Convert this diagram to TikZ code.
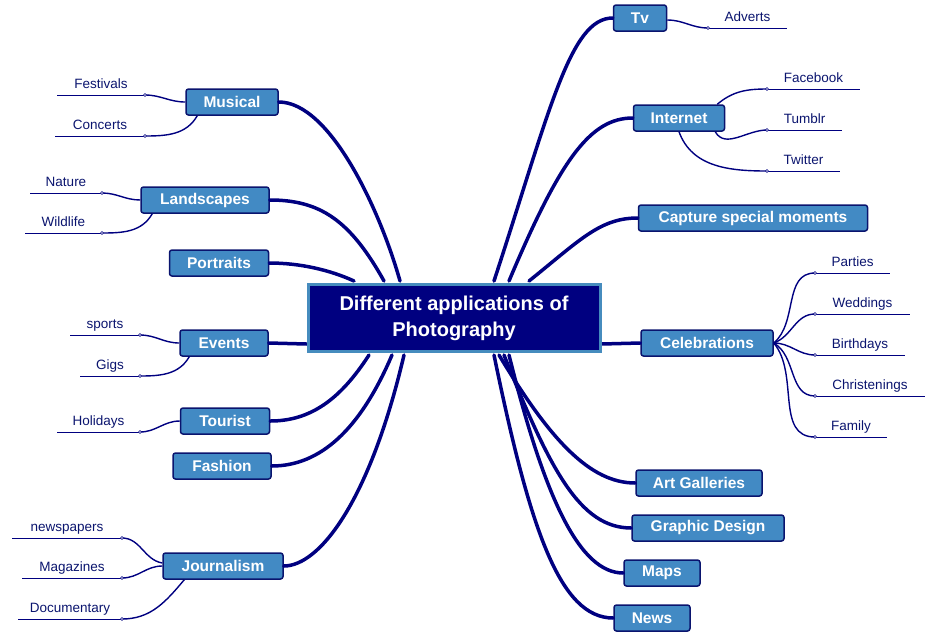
\documentclass[tikz,border=0pt]{standalone}
\usepackage{fontspec}
\setmainfont{Liberation Sans}
\usetikzlibrary{calc}
\definecolor{navy}{RGB}{0,0,128}
\definecolor{dnavy}{RGB}{10,20,110}
\definecolor{bfill}{RGB}{66,138,196}
\definecolor{cborder}{RGB}{70,140,190}
\begin{document}
\begin{tikzpicture}[x=1pt,y=-1pt,
  br/.style={draw=dnavy,line width=1.5pt,fill=bfill,rounded corners=2.5pt,text=white,font=\bfseries\fontsize{15.5}{18}\selectfont,minimum height=26pt,inner xsep=5pt},
  lf/.style={text=dnavy,font=\fontsize{13.5}{16}\selectfont,anchor=base},
  cen/.style={draw=cborder,line width=3pt,fill=navy,text=white,minimum width=292pt,minimum height=67pt,align=center,font=\bfseries\fontsize{20}{26}\selectfont},
  main/.style={draw=navy,line width=3.5pt,line cap=round},
  sub/.style={draw=navy,line width=1.4pt},
  ul/.style={draw=navy,line width=0.6pt},
  dot/.style={draw=navy,fill=white,line width=0.5pt,circle,inner sep=0pt,minimum size=3pt}]
\useasboundingbox (0,0) rectangle (931,638);
% central
\node[cen] (c) at (454,318) {Different applications of\\Photography};
% branch nodes
\node[br,minimum width=92pt] (mus) at (232,102) {Musical};
\node[br,minimum width=128pt] (lan) at (205,200) {Landscapes};
\node[br,minimum width=99pt] (por) at (219,263) {Portraits};
\node[br,minimum width=88pt] (eve) at (224,343) {Events};
\node[br,minimum width=89pt] (tou) at (225,421) {Tourist};
\node[br,minimum width=98pt] (fas) at (222,466) {Fashion};
\node[br,minimum width=120pt] (jou) at (223,566) {Journalism};
\node[br,minimum width=53pt] (tv) at (640,18) {Tv};
\node[br,minimum width=91pt] (int) at (679,118) {Internet};
\node[br,minimum width=229pt] (cap) at (753,218) {Capture special moments};
\node[br,minimum width=132pt] (cel) at (707,343) {Celebrations};
\node[br,minimum width=126pt] (art) at (699,483) {Art Galleries};
\node[br,minimum width=152pt] (gra) at (708,528) {Graphic Design};
\node[br,minimum width=76pt] (map) at (662,573) {Maps};
\node[br,minimum width=76pt] (new) at (652,618) {News};
% main connectors
\draw[main] ($(c.north)+(-54,-2)$) .. controls (380,210) and (330,102) .. (mus.east);
\draw[main] ($(c.north)+(-70,-2)$) .. controls (350,220) and (320,200) .. (lan.east);
\draw[main] ($(c.north)+(-100,-2)$) .. controls (330,270) and (300,263) .. (por.east);
\draw[main] ($(c.south west)+(0,-9)$) -- (eve.east);
\draw[main] ($(c.south)+(-85,2)$) .. controls (340,400) and (310,421) .. (tou.east);
\draw[main] ($(c.south)+(-62,2)$) .. controls (360,430) and (320,466) .. (fas.east);
\draw[main] ($(c.south)+(-50,2)$) .. controls (370,500) and (320,566) .. (jou.east);
\draw[main] ($(c.north)+(40,-2)$) .. controls (550,110) and (570,18) .. (tv.west);
\draw[main] ($(c.north)+(55,-2)$) .. controls (560,160) and (590,118) .. (int.west);
\draw[main] ($(c.north)+(75,-2)$) .. controls (580,240) and (600,218) .. (cap.west);
\draw[main] ($(c.south east)+(0,-9)$) -- (cel.west);
\draw[main] ($(c.south)+(45,2)$) .. controls (550,440) and (590,483) .. (art.west);
\draw[main] ($(c.south)+(50,2)$) .. controls (550,470) and (580,528) .. (gra.west);
\draw[main] ($(c.south)+(55,2)$) .. controls (545,500) and (580,573) .. (map.west);
\draw[main] ($(c.south)+(40,2)$) .. controls (530,530) and (560,618) .. (new.west);
% redraw central on top
\node[cen] at (454,318) {Different applications of\\Photography};
% leaves left
\coordinate (l1) at (145,95); \coordinate (l2) at (145,136);
\coordinate (l3) at (102,193); \coordinate (l4) at (102,233);
\coordinate (l5) at (140,335); \coordinate (l6) at (140,376);
\coordinate (l7) at (140,432);
\coordinate (l8) at (122,538); \coordinate (l9) at (122,578); \coordinate (l10) at (122,619);
\draw[sub] (mus.west) to[out=180,in=0] (l1);
\draw[sub] ($(mus.south west)+(12,0)$) to[out=-120,in=0] (l2);
\draw[sub] (lan.west) to[out=180,in=0] (l3);
\draw[sub] ($(lan.south west)+(12,0)$) to[out=-120,in=0] (l4);
\draw[sub] (eve.west) to[out=180,in=0] (l5);
\draw[sub] ($(eve.south west)+(10,0)$) to[out=-120,in=0] (l6);
\draw[sub] (tou.west) to[out=180,in=0] (l7);
\draw[sub] ($(jou.west)+(0,-3)$) to[out=170,in=0] (l8);
\draw[sub] (jou.west) to[out=180,in=0] (l9);
\draw[sub] ($(jou.south west)+(22,0)$) to[out=-130,in=0] (l10);
\draw[ul] (l1) -- ++(-88,0) node[lf,pos=0.5,yshift=7pt] {Festivals};
\draw[ul] (l2) -- ++(-90,0) node[lf,pos=0.5,yshift=7pt] {Concerts};
\draw[ul] (l3) -- ++(-72,0) node[lf,pos=0.5,yshift=7pt] {Nature};
\draw[ul] (l4) -- ++(-77,0) node[lf,pos=0.5,yshift=7pt] {Wildlife};
\draw[ul] (l5) -- ++(-70,0) node[lf,pos=0.5,yshift=7pt] {sports};
\draw[ul] (l6) -- ++(-60,0) node[lf,pos=0.5,yshift=7pt] {Gigs};
\draw[ul] (l7) -- ++(-83,0) node[lf,pos=0.5,yshift=7pt] {Holidays};
\draw[ul] (l8) -- ++(-110,0) node[lf,pos=0.5,yshift=7pt] {newspapers};
\draw[ul] (l9) -- ++(-100,0) node[lf,pos=0.5,yshift=7pt] {Magazines};
\draw[ul] (l10) -- ++(-104,0) node[lf,pos=0.5,yshift=7pt] {Documentary};
% leaves right
\coordinate (r1) at (708,28);
\coordinate (r2) at (767,89); \coordinate (r3) at (767,130); \coordinate (r4) at (767,171);
\coordinate (r5) at (815,273); \coordinate (r6) at (815,314); \coordinate (r7) at (815,355);
\coordinate (r8) at (815,396); \coordinate (r9) at (815,437);
\draw[sub] ($(tv.east)+(0,2)$) to[out=0,in=180] (r1);
\draw[sub] ($(int.north east)+(-8,0)$) to[out=40,in=180] (r2);
\draw[sub] ($(int.south east)+(-10,0)$) to[out=-60,in=180] (r3);
\draw[sub] ($(int.south)+(0,0)$) to[out=-70,in=180] (r4);
\draw[sub] (cel.east) to[out=40,in=180] (r5);
\draw[sub] (cel.east) to[out=20,in=180] (r6);
\draw[sub] (cel.east) to[out=0,in=180] (r7);
\draw[sub] (cel.east) to[out=-30,in=180] (r8);
\draw[sub] (cel.east) to[out=-50,in=180] (r9);
\draw[ul] (r1) -- ++(79,0) node[lf,pos=0.5,yshift=7pt] {Adverts};
\draw[ul] (r2) -- ++(93,0) node[lf,pos=0.5,yshift=7pt] {Facebook};
\draw[ul] (r3) -- ++(75,0) node[lf,pos=0.5,yshift=7pt] {Tumblr};
\draw[ul] (r4) -- ++(73,0) node[lf,pos=0.5,yshift=7pt] {Twitter};
\draw[ul] (r5) -- ++(75,0) node[lf,pos=0.5,yshift=7pt] {Parties};
\draw[ul] (r6) -- ++(95,0) node[lf,pos=0.5,yshift=7pt] {Weddings};
\draw[ul] (r7) -- ++(90,0) node[lf,pos=0.5,yshift=7pt] {Birthdays};
\draw[ul] (r8) -- ++(110,0) node[lf,pos=0.5,yshift=7pt] {Christenings};
\draw[ul] (r9) -- ++(72,0) node[lf,pos=0.5,yshift=7pt] {Family};
\foreach \p in {l1,l2,l3,l4,l5,l6,l7,l8,l9,l10,r1,r2,r3,r4,r5,r6,r7,r8,r9} \node[dot] at (\p) {};
\end{tikzpicture}
\end{document}
